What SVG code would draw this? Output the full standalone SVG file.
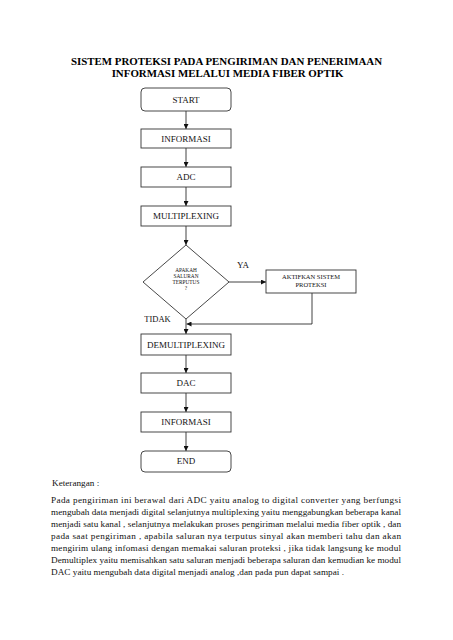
<svg xmlns="http://www.w3.org/2000/svg" width="453" height="640" viewBox="0 0 453 640">
<defs>
<style>
.bg{fill:#ffffff}
.box{fill:#ffffff;stroke:#333333;stroke-width:0.9}
.lbl{font-family:"Liberation Serif","Times New Roman",serif;font-size:9px;fill:#111111;text-anchor:middle}
.small{font-family:"Liberation Serif","Times New Roman",serif;fill:#111111;text-anchor:middle}
.title{font-family:"Liberation Serif","Times New Roman",serif;font-size:10.9px;font-weight:bold;fill:#000000;text-anchor:middle}
.body{font-family:"Liberation Serif","Times New Roman",serif;font-size:9.2px;fill:#111111}
.con{fill:none;stroke:#111111;stroke-width:0.8}
</style>
<marker id="arr" viewBox="0 0 10 10" refX="10" refY="5" markerWidth="5" markerHeight="5" orient="auto" markerUnits="userSpaceOnUse">
<path d="M0,0 L10,5 L0,10 z" fill="#111111"/>
</marker>
</defs>
<rect class="bg" x="0" y="0" width="453" height="640"/>

<g id="title">
<text class="title" x="226.5" y="65">SISTEM PROTEKSI PADA PENGIRIMAN DAN PENERIMAAN</text>
<text class="title" x="227.5" y="77">INFORMASI MELALUI MEDIA FIBER OPTIK</text>
</g>

<g id="connectors">
<line class="con" x1="186" y1="111" x2="186" y2="129" marker-end="url(#arr)"/>
<line class="con" x1="186" y1="148" x2="186" y2="167" marker-end="url(#arr)"/>
<line class="con" x1="186" y1="187" x2="186" y2="206" marker-end="url(#arr)"/>
<line class="con" x1="186" y1="226" x2="186" y2="245" marker-end="url(#arr)"/>
<line class="con" x1="229" y1="282" x2="266" y2="282" marker-end="url(#arr)"/>
<polyline class="con" points="312,293 312,324 186.5,324" marker-end="url(#arr)"/>
<line class="con" x1="186" y1="319" x2="186" y2="334" marker-end="url(#arr)"/>
<line class="con" x1="186" y1="355" x2="186" y2="373" marker-end="url(#arr)"/>
<line class="con" x1="186" y1="393" x2="186" y2="412" marker-end="url(#arr)"/>
<line class="con" x1="186" y1="432" x2="186" y2="451" marker-end="url(#arr)"/>
<text class="lbl" x="243" y="268" style="font-size:9px">YA</text>
<text class="lbl" x="157.5" y="322" style="font-size:8.5px">TIDAK</text>
</g>

<g id="start">
<rect class="box" x="141" y="88" width="90" height="23" rx="4"/>
<text class="lbl" x="186" y="102.5">START</text>
</g>
<g id="informasi1">
<rect class="box" x="141" y="129" width="90" height="19"/>
<text class="lbl" x="186" y="141.5">INFORMASI</text>
</g>
<g id="adc">
<rect class="box" x="141" y="167" width="90" height="20"/>
<text class="lbl" x="186" y="180">ADC</text>
</g>
<g id="multiplexing">
<rect class="box" x="141" y="206" width="90" height="20"/>
<text class="lbl" x="186" y="219">MULTIPLEXING</text>
</g>
<g id="decision">
<polygon class="box" points="186,245 229,282 186,319 143,282"/>
<text class="small" x="186" y="272" style="font-size:5.3px">APAKAH</text>
<text class="small" x="186" y="278" style="font-size:5.3px">SALURAN</text>
<text class="small" x="186" y="284" style="font-size:5.3px">TERPUTUS</text>
<text class="small" x="186" y="290" style="font-size:5.3px">?</text>
</g>
<g id="aktifkan">
<rect class="box" x="266" y="270" width="90" height="23"/>
<text class="small" x="311" y="279" style="font-size:6.5px">AKTIFKAN SISTEM</text>
<text class="small" x="311" y="286.5" style="font-size:6.5px">PROTEKSI</text>
</g>
<g id="demultiplexing">
<rect class="box" x="141" y="334" width="90" height="21"/>
<text class="lbl" x="186" y="347.5">DEMULTIPLEXING</text>
</g>
<g id="dac">
<rect class="box" x="141" y="373" width="90" height="20"/>
<text class="lbl" x="186" y="386">DAC</text>
</g>
<g id="informasi2">
<rect class="box" x="141" y="412" width="90" height="20"/>
<text class="lbl" x="186" y="425">INFORMASI</text>
</g>
<g id="end">
<rect class="box" x="141" y="451" width="90" height="21" rx="4"/>
<text class="lbl" x="186" y="464">END</text>
</g>

<g id="keterangan">
<text class="body" x="52" y="486">Keterangan :</text>
<text class="body" x="51" y="502.5" textLength="350" lengthAdjust="spacing">Pada pengiriman ini berawal dari ADC yaitu analog to digital converter yang berfungsi</text>
<text class="body" x="51" y="514.5" textLength="350" lengthAdjust="spacing">mengubah data menjadi digital selanjutnya multiplexing yaitu menggabungkan beberapa kanal</text>
<text class="body" x="51" y="526.5" textLength="350" lengthAdjust="spacing">menjadi satu kanal , selanjutnya melakukan proses pengiriman melalui media fiber optik , dan</text>
<text class="body" x="51" y="538.5" textLength="350" lengthAdjust="spacing">pada saat pengiriman , apabila saluran nya terputus sinyal akan memberi tahu dan akan</text>
<text class="body" x="51" y="550.5" textLength="350" lengthAdjust="spacing">mengirim ulang infomasi dengan memakai saluran proteksi , jika tidak langsung ke modul</text>
<text class="body" x="51" y="562.5" textLength="350" lengthAdjust="spacing">Demultiplex yaitu memisahkan satu saluran menjadi beberapa saluran dan kemudian ke modul</text>
<text class="body" x="51" y="574.5" textLength="293" lengthAdjust="spacing">DAC yaitu mengubah data digital  menjadi analog ,dan pada pun dapat sampai .</text>
</g>
</svg>
